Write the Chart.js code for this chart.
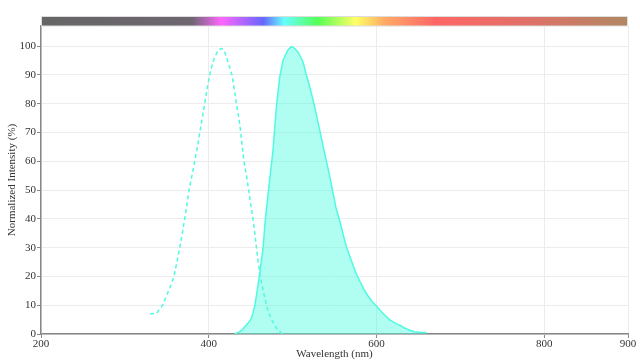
<!DOCTYPE html>
<html>
<head>
<meta charset="utf-8">
<script src="https://cdn.jsdelivr.net/npm/chart.js@4/dist/chart.umd.min.js"></script>
<style>
html,body{margin:0;padding:0;background:#fff;}
#c{display:block;}
</style>
</head>
<body>
<canvas id="c" width="640" height="364"></canvas>
<script>
// ---- data ----
const excitationWavelengths = [330,338,341,345,350,355,358.6,362,365.4,368.5,371.4,374,376.5,380,383.3,386.5,389.3,392.3,395.2,398,401.2,404,407,411,415,418,421,424,427.8,430.5,433,436,438.2,440,442,445,447.7,450,452.8,455,456.9,459,461.6,465,468.8,472,476,480.7,484,488];
const excitationValues      = [7,7.2,8.5,10,13.5,17,20,25,30,35,40,45,50,55,60,65,70,75,80,85,90,93.5,96,98.5,99.2,98.7,96.5,93.5,90,85,80,75,70,65,60,55,50,45,40,35,30,25,20,15,10,7,4.5,2,1,0];

const emissionWavelengths = [431,433,437,440,443,447,450.9,453,454.9,457,458.8,461.7,464.8,467.6,472,476.7,480.7,484.7,488.6,494.6,498.6,502,506.5,512.5,516,520.5,526.4,532.4,538.3,544,550,552,556,560,564,570,575,580,585,590,595,600,606,612,616,624,628,634,640,645,652,659.6];
const emissionValues      = [0,0.3,0.8,1.5,2.5,3.8,5.4,7.5,9.8,13.5,17,22.8,29.8,40,51.7,63.9,78.9,89.3,95.1,98.8,99.8,99.3,98,94.5,90.5,85.9,78.9,70.8,62.7,55.3,46.5,43.5,39.6,35,30.5,25.5,21.6,18.5,15.6,13.2,11.2,9.7,7.7,6,4.9,3.5,3.1,2,1.3,0.8,0.6,0.5];

const xTickValues = [200,400,600,800,900];
const yTickValues = [0,10,20,30,40,50,60,70,80,90,100];

// colour bar stops: wavelength -> colour
const barStopWavelengths = [200,380,415,465,490,530,575,610,670,780,900];
const barStopColours = ['#666666','#6e6670','#ff66ff','#6666ff','#66ffff','#55ff55','#ffff66','#ffaa66','#ff6666','#e07068','#b08862'];

const lineColour = 'rgb(80,250,225)';
const fillColour = 'rgba(80,250,225,0.45)';

const colourBar = {
  id: 'colourBar',
  afterDraw(chart) {
    const ctx = chart.ctx, xs = chart.scales.x, a = chart.chartArea;
    const x0 = a.left, x1 = a.right, y0 = a.top - 9, h = 9;
    const g = ctx.createLinearGradient(x0, 0, x1, 0);
    barStopWavelengths.forEach((w, i) => {
      const p = (xs.getPixelForValue(w) - x0) / (x1 - x0);
      g.addColorStop(Math.min(1, Math.max(0, p)), barStopColours[i]);
    });
    ctx.save();
    ctx.fillStyle = g;
    ctx.fillRect(x0, y0, x1 - x0, h);
    ctx.strokeStyle = '#dddddd';
    ctx.lineWidth = 1;
    ctx.strokeRect(x0 + 0.5, y0 - 0.5, x1 - x0 - 1, h + 0.5);
    ctx.restore();
  }
};

const serif = "'Liberation Serif','Times New Roman',serif";

new Chart(document.getElementById('c'), {
  type: 'line',
  data: {
    datasets: [
      {
        label: 'Emission',
        data: emissionWavelengths.map((w, i) => ({x: w, y: emissionValues[i]})),
        borderColor: lineColour,
        backgroundColor: fillColour,
        borderWidth: 1.5,
        pointRadius: 0,
        tension: 0,
        fill: 'origin'
      },
      {
        label: 'Excitation',
        data: excitationWavelengths.map((w, i) => ({x: w, y: excitationValues[i]})),
        borderColor: lineColour,
        borderWidth: 1.5,
        borderDash: [4, 3],
        pointRadius: 0,
        tension: 0,
        fill: false
      }
    ]
  },
  options: {
    responsive: false,
    animation: false,
    devicePixelRatio: 1,
    layout: { padding: { top: 26, right: 12, left: 0, bottom: 0 } },
    plugins: { legend: { display: false }, tooltip: { enabled: false } },
    scales: {
      x: {
        type: 'linear',
        min: 200, max: 900,
        afterBuildTicks(s) { s.ticks = xTickValues.map(v => ({value: v})); },
        afterFit(s) { s.height = 30; },
        grid: { color: '#ececec', tickColor: '#888', tickLength: 4, lineWidth: 1 },
        border: { color: '#888', width: 1.5 },
        ticks: { color: '#333', font: { family: serif, size: 11 }, padding: 0, maxRotation: 0, autoSkip: false },
        title: { display: true, text: 'Wavelength (nm)', color: '#333', font: { family: serif, size: 11 }, padding: { top: 0, bottom: 3 } }
      },
      y: {
        min: 0, max: 107,
        afterBuildTicks(s) { s.ticks = yTickValues.map(v => ({value: v})); },
        afterFit(s) { s.width = 41; },
        grid: { color: '#ececec', tickColor: '#888', tickLength: 4, lineWidth: 1 },
        border: { color: '#888', width: 1.5 },
        ticks: { color: '#333', font: { family: serif, size: 11 }, padding: 1 },
        title: { display: true, text: 'Normalized Intensity (%)', color: '#333', font: { family: serif, size: 11 }, padding: { top: 6, bottom: 0 } }
      }
    }
  },
  plugins: [colourBar]
});
</script>
</body>
</html>
